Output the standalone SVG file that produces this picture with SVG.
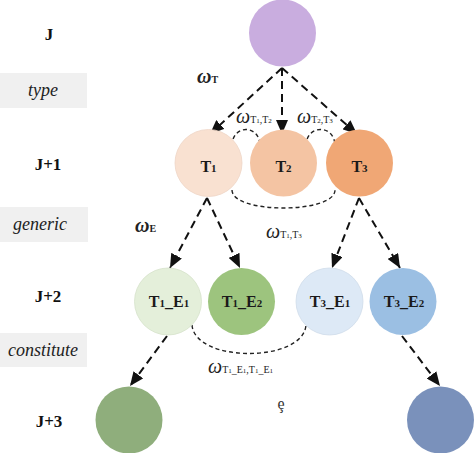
<svg xmlns="http://www.w3.org/2000/svg" width="474" height="453" viewBox="0 0 474 453" font-family="'Liberation Serif', 'Times New Roman', Times, Tinos, 'Noto Serif', 'DejaVu Serif', FreeSerif, serif">
<style>
text{font-family:'Liberation Serif','Times New Roman',Times,Tinos,'Noto Serif','DejaVu Serif',FreeSerif,serif}
.lvl{font-weight:bold;font-size:17px;fill:#111;text-anchor:middle}
.rel{font-style:italic;font-size:18px;fill:#222;text-anchor:middle}
.box{fill:#f0f0f0}
.nl{font-weight:bold;font-size:16px;fill:#1a1a1a;text-anchor:middle}
.sm{font-size:11px}
.arr{stroke:#111;stroke-width:2;stroke-dasharray:8 5;fill:none;marker-end:url(#ah)}
.dot{stroke:#222;stroke-width:1.4;stroke-dasharray:4 3;fill:none}
.w{font-style:italic;font-size:20px;fill:#222}
.wb{font-weight:bold}
.sub{font-style:normal;font-size:10px}
.sd{font-size:7px}
</style>
<defs>
<marker id="ah" viewBox="0 0 14 12" refX="14" refY="6" markerWidth="14" markerHeight="12" markerUnits="userSpaceOnUse" orient="auto">
<path d="M0,0 L14,6 L0,12 z" fill="#111"/>
</marker>
</defs>
<rect width="474" height="453" fill="#fff"/>
<g id="levels">
<text class="lvl" x="49" y="40">J</text>
<rect class="box" x="0" y="73" width="87" height="35"/>
<text class="rel" x="43" y="96">type</text>
<text class="lvl" x="48" y="170">J+1</text>
<rect class="box" x="0" y="207" width="88" height="35"/>
<text class="rel" x="40" y="230">generic</text>
<text class="lvl" x="48" y="302">J+2</text>
<rect class="box" x="0" y="333" width="87" height="34"/>
<text class="rel" x="43" y="356">constitute</text>
<text class="lvl" x="49" y="427">J+3</text>
</g>
<g id="connectors">
<line class="arr" x1="282" y1="68" x2="210" y2="134"/>
<line class="arr" x1="282" y1="68" x2="282" y2="134"/>
<line class="arr" x1="282" y1="68" x2="357" y2="134"/>
<line class="arr" x1="207" y1="198" x2="170" y2="268"/>
<line class="arr" x1="207" y1="198" x2="240" y2="268"/>
<line class="arr" x1="359" y1="198" x2="332" y2="268"/>
<line class="arr" x1="359" y1="198" x2="400" y2="268"/>
<line class="arr" x1="167" y1="336" x2="130" y2="386"/>
<line class="arr" x1="402" y1="336" x2="440" y2="386"/>
<path class="dot" d="M232,146 C232,124 260,124 260,146"/>
<path class="dot" d="M306,146 C306,124 335,124 335,146"/>
<path class="dot" d="M232,190 C232,214 335,214 335,190"/>
<path class="dot" d="M192,325 C195,363 303,363 306,325"/>
</g>
<g id="J"><circle cx="282.5" cy="33" r="33.5" fill="#c9addf"/></g>
<g id="T1"><circle cx="208.5" cy="163" r="33.5" fill="#f9e1d1" stroke="#efd6c6" stroke-width="0.8"/><text class="nl" x="208.5" y="172">T<tspan class="sm">1</tspan></text></g>
<g id="T2"><circle cx="283.5" cy="163" r="33.5" fill="#f4c4a3"/><text class="nl" x="283.5" y="172">T<tspan class="sm">2</tspan></text></g>
<g id="T3"><circle cx="359.5" cy="163" r="33.5" fill="#f0a775"/><text class="nl" x="359.5" y="172">T<tspan class="sm">3</tspan></text></g>
<g id="T1_E1"><circle cx="168" cy="301.5" r="33.5" fill="#e4efda" stroke="#d5e2ca" stroke-width="0.8"/><text class="nl" x="169" y="307">T<tspan class="sm">1</tspan>_E<tspan class="sm">1</tspan></text></g>
<g id="T1_E2"><circle cx="241.5" cy="301.5" r="33.5" fill="#9dc47e"/><text class="nl" x="242" y="307">T<tspan class="sm">1</tspan>_E<tspan class="sm">2</tspan></text></g>
<g id="T3_E1"><circle cx="329.5" cy="301.5" r="33.5" fill="#dde9f6" stroke="#cfdcea" stroke-width="0.8"/><text class="nl" x="330" y="307">T<tspan class="sm">3</tspan>_E<tspan class="sm">1</tspan></text></g>
<g id="T3_E2"><circle cx="403" cy="301.5" r="33.5" fill="#9bbfe3"/><text class="nl" x="404" y="307">T<tspan class="sm">3</tspan>_E<tspan class="sm">2</tspan></text></g>
<g id="L3a"><circle cx="129" cy="420" r="33.5" fill="#8fae7c"/></g>
<g id="L3b"><circle cx="440.5" cy="420" r="33.5" fill="#7a91bb"/></g>
<g id="labels">
<text class="w wb" x="197" y="83">ω<tspan class="sub wb">T</tspan></text>
<text class="w" x="236" y="123">ω<tspan class="sub">T<tspan class="sd">1</tspan>,T<tspan class="sd">2</tspan></tspan></text>
<text class="w" x="297" y="123">ω<tspan class="sub">T<tspan class="sd">2</tspan>,T<tspan class="sd">3</tspan></tspan></text>
<text class="w wb" x="135" y="232">ω<tspan class="sub wb">E</tspan></text>
<text class="w" x="266" y="238">ω<tspan class="sub">T<tspan class="sd">1</tspan>,T<tspan class="sd">3</tspan></tspan></text>
<text class="w" x="208" y="373">ω<tspan class="sub">T<tspan class="sd">1</tspan>_E<tspan class="sd">1</tspan>,T<tspan class="sd">1</tspan>_E<tspan class="sd">1</tspan></tspan></text>
<text x="281" y="409" font-size="16" fill="#333" text-anchor="middle">ȩ</text>
</g>
</svg>
